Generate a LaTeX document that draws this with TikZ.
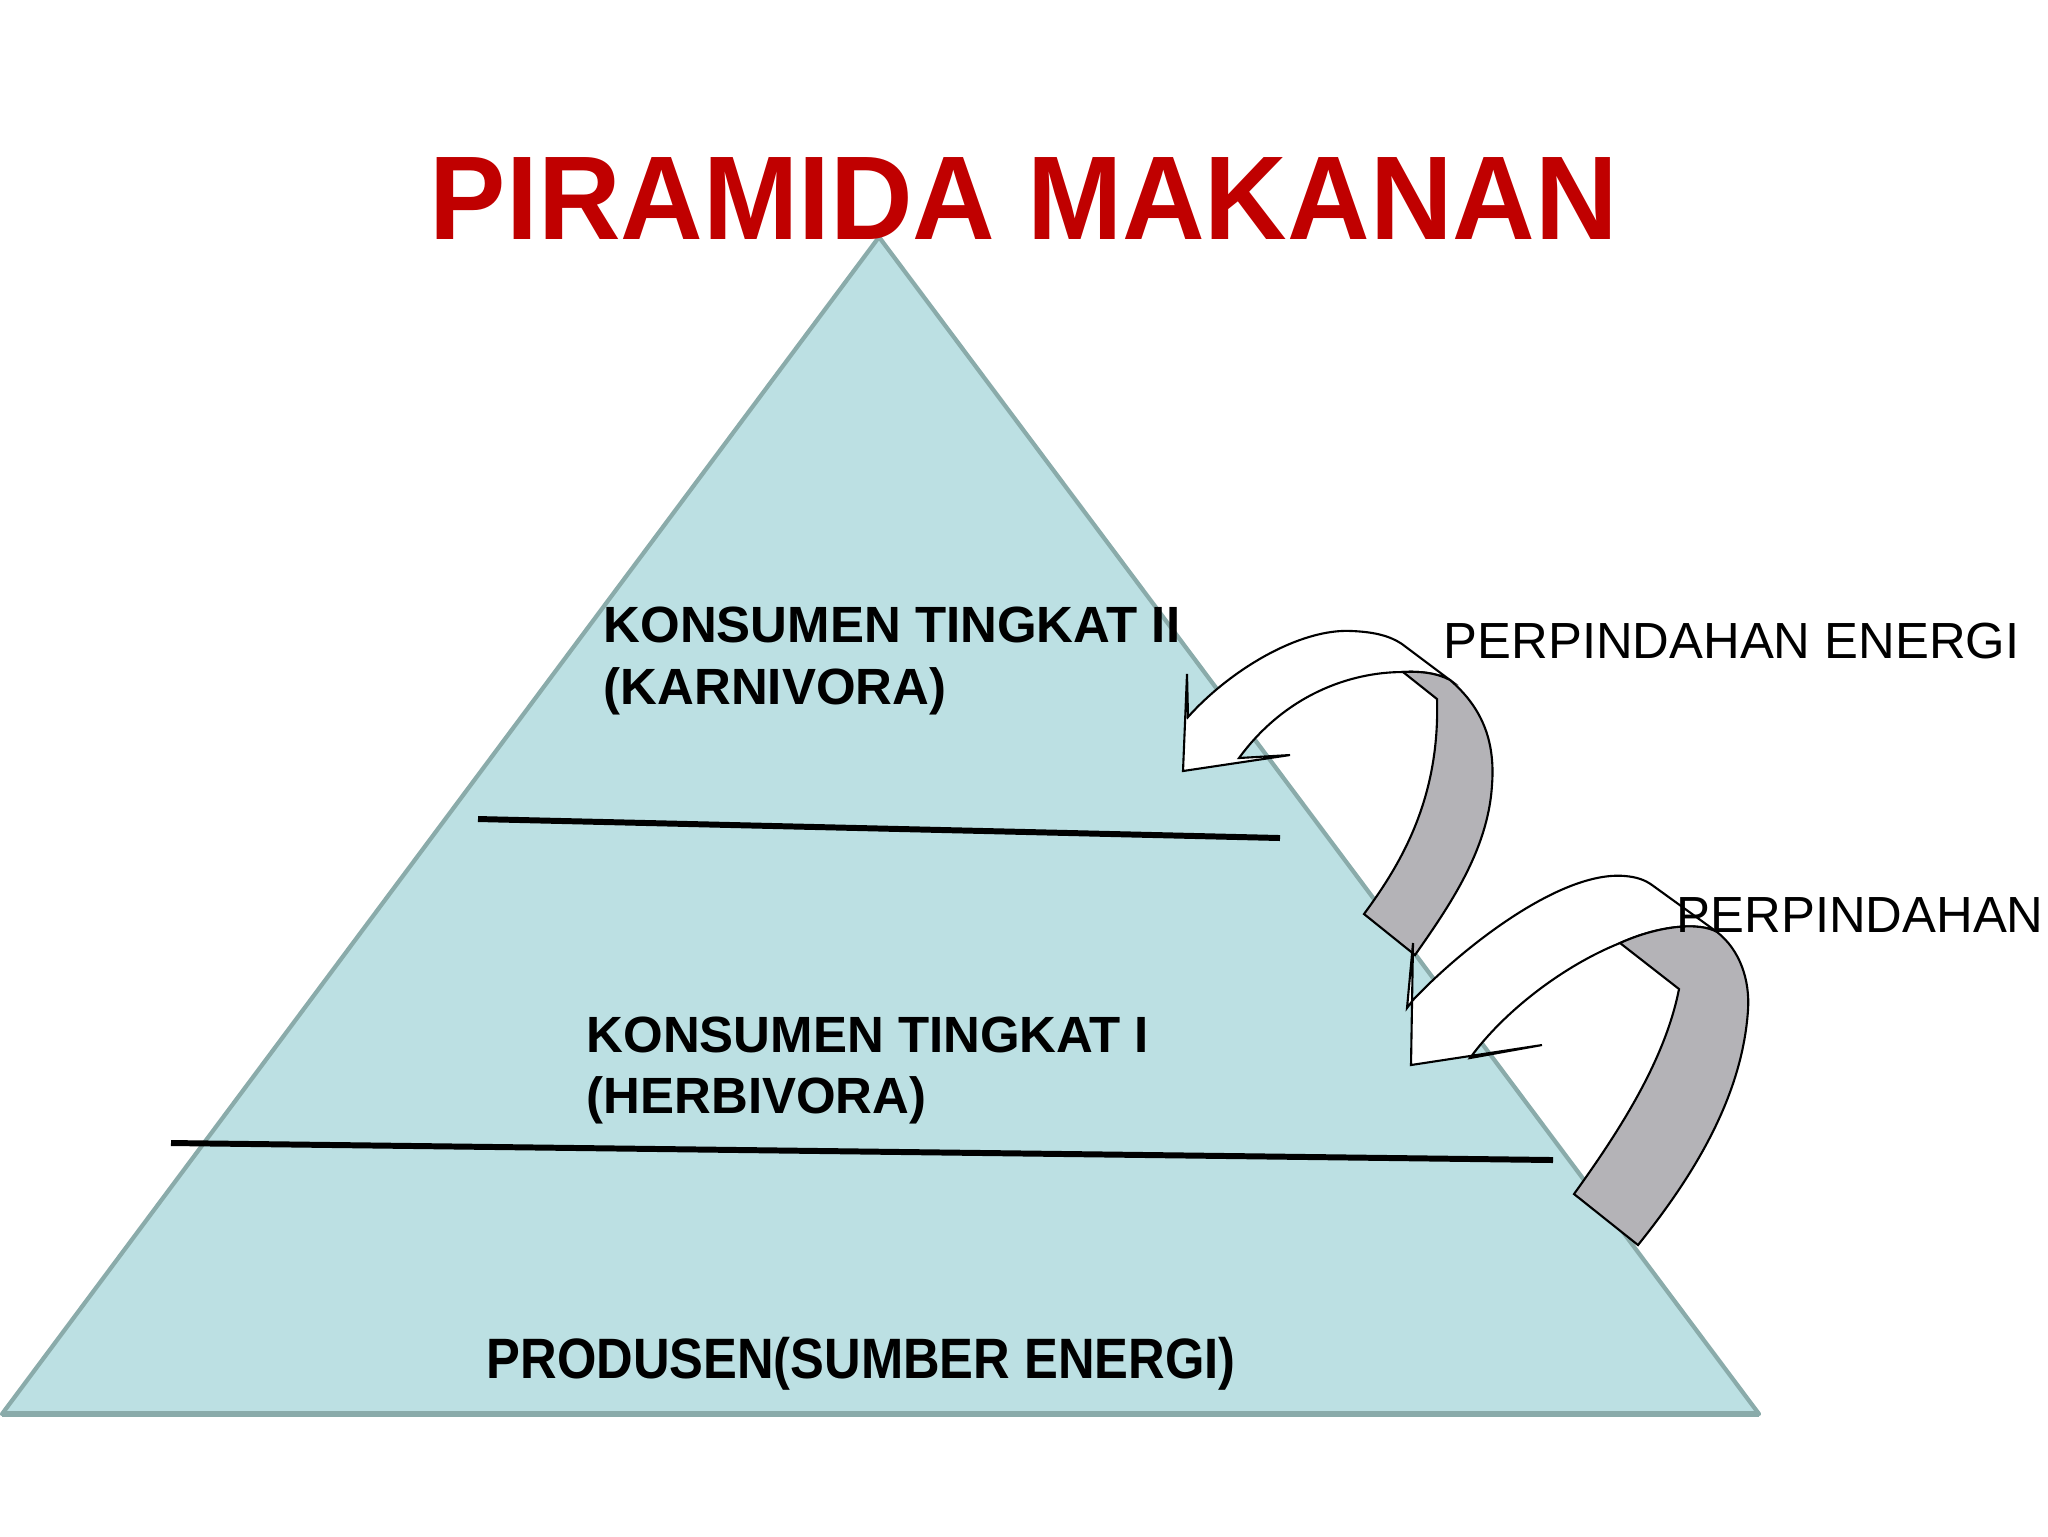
\documentclass[tikz,border=0pt]{standalone}
\usepackage{fontspec}
\setmainfont{Liberation Sans}
\usepackage{xcolor}
\usetikzlibrary{positioning}
\definecolor{pyrfill}{HTML}{BCE0E3}
\definecolor{pyredge}{HTML}{8AABAA}
\definecolor{titlered}{HTML}{C00000}
\definecolor{bandgray}{HTML}{B4B3B7}

\begin{document}
\begin{tikzpicture}[x=0.1mm, y=-0.1mm,
    levelline/.style={line width=1.7pt, black},
    levellabel/.style={inner sep=0, anchor=base west, font=\fontsize{14.5}{17}\selectfont\bfseries},
    energynote/.style={inner sep=0, anchor=base west, font=\fontsize{14.45}{17}\selectfont},
    arrowbody/.style={draw=black, fill=white, line width=0.6pt},
    arrowband/.style={draw=black, fill=bandgray, line width=0.6pt}]
    \useasboundingbox (0,0) rectangle (2048,1536);
    \fill[white] (0,0) rectangle (2048,1536);

    % Pyramid
    \coordinate (apex) at (879,237);
    \coordinate (baseR) at (1759,1414);
    \coordinate (baseL) at (2,1414);
    \draw[pyredge, line width=1.2pt, fill=pyrfill, line join=round] (apex) -- (baseR) -- (baseL) -- cycle;
    \draw[pyredge, line width=1.8pt] (baseL) -- (baseR);

    % Level borders
    \coordinate (upL) at (478,819);
    \coordinate (upR) at (1280,838);
    \coordinate (loL) at (171,1143);
    \coordinate (loR) at (1553,1160);
    \draw[levelline] (upL) -- (upR);
    \draw[levelline] (loL) -- (loR);

    % Levels
    \node[levellabel] (kontwo) at (603,642) {KONSUMEN TINGKAT II};
    \node[levellabel] (karni) at (603,704) {(KARNIVORA)};
    \node[levellabel] (konone) at (586,1052) {KONSUMEN TINGKAT I};
    \node[levellabel] (herbi) at (586,1113) {(HERBIVORA)};
    \node[levellabel, font=\fontsize{16.2}{19}\selectfont\bfseries] (produsen) at (486,1378) {\scalebox{0.89}[1]{PRODUSEN(SUMBER ENERGI)}};

    % Upper transfer arrow
    \path[arrowbody] (1188,717) .. controls (1230,670) and (1300,628) .. (1352,631)
        .. controls (1375,632) and (1390,636) .. (1402,644) -- (1450,680)
        .. controls (1437,673) and (1420,671) .. (1403,672)
        .. controls (1350,672) and (1285,695) .. (1239,758)
        -- (1290,755) -- (1183,771) -- (1187,674) -- cycle;
    \path[arrowband] (1403,672) .. controls (1420,671) and (1437,673) .. (1450,680)
        .. controls (1485,710) and (1495,745) .. (1492,785)
        .. controls (1488,850) and (1450,905) .. (1415,955)
        -- (1364,914)
        .. controls (1400,865) and (1440,800) .. (1437,699) -- cycle;

    % Lower transfer arrow
    \path[arrowbody] (1413,1000) .. controls (1460,950) and (1560,870) .. (1625,876)
        .. controls (1637,877) and (1645,880) .. (1652,885) -- (1717,932)
        .. controls (1700,922) and (1660,925) .. (1620,943)
        .. controls (1565,965) and (1505,1010) .. (1470,1058)
        -- (1542,1045) -- (1411,1065) -- (1413,943) -- (1407,1008) -- cycle;
    \path[arrowband] (1620,943) .. controls (1660,925) and (1700,922) .. (1717,932)
        .. controls (1740,950) and (1750,980) .. (1748,1010)
        .. controls (1742,1100) and (1690,1180) .. (1638,1245)
        -- (1574,1194)
        .. controls (1620,1130) and (1665,1060) .. (1679,989) -- cycle;

    \node[energynote] (perpA) at (1443,658) {PERPINDAHAN ENERGI};
    \node[energynote] (perpB) at (1676,932) {PERPINDAHAN};

    % Title
    \node[anchor=base, inner sep=0, text=titlered, font=\fontsize{33.9}{40}\selectfont\bfseries] (title) at (1024,239) {\scalebox{0.96}[1]{PIRAMIDA MAKANAN}};
\end{tikzpicture}
\end{document}
